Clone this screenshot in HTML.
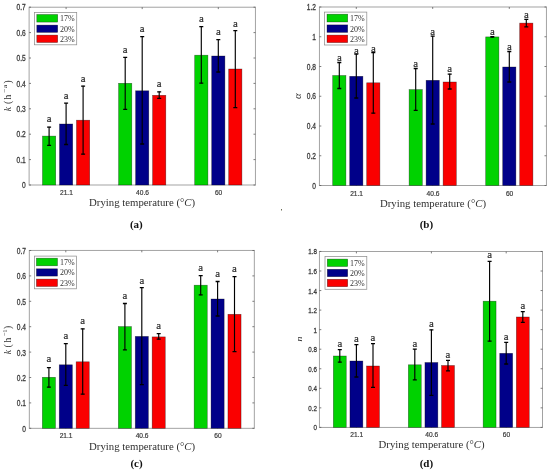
<!DOCTYPE html>
<html><head><meta charset="utf-8"><title>Figure</title>
<style>
html,body{margin:0;padding:0;background:#fff;}
svg{display:block;}
.t{font-family:"Liberation Sans",sans-serif;font-size:8.6px;fill:#3a3a3a;stroke:#3a3a3a;stroke-width:0.3px;}
.tx{font-size:7.7px;stroke-width:0.22px;}
.s{font-family:"Liberation Serif",serif;fill:#303030;}
.cap{font-family:"Liberation Serif",serif;font-weight:bold;font-size:11px;fill:#111;}
</style></head><body>
<svg width="550" height="471" viewBox="0 0 550 471">
<rect width="550" height="471" fill="#fff"/>
<g id="panel-a">
<rect x="29.10" y="7.20" width="226.30" height="177.80" fill="none" stroke="#999999" stroke-width="0.9"/>
<path d="M29.10 185.00h1.9M255.40 185.00h-1.9M29.10 159.60h1.9M255.40 159.60h-1.9M29.10 134.20h1.9M255.40 134.20h-1.9M29.10 108.80h1.9M255.40 108.80h-1.9M29.10 83.40h1.9M255.40 83.40h-1.9M29.10 58.00h1.9M255.40 58.00h-1.9M29.10 32.60h1.9M255.40 32.60h-1.9M29.10 7.20h1.9M255.40 7.20h-1.9M66.10 185.00v-1.9M66.10 7.20v1.9M142.20 185.00v-1.9M142.20 7.20v1.9M218.30 185.00v-1.9M218.30 7.20v1.9" stroke="#5a5a5a" stroke-width="0.8" fill="none"/>
<rect x="42.50" y="136.10" width="13.20" height="48.90" fill="#00d200" stroke="#000" stroke-opacity="0.5" stroke-width="0.6"/>
<rect x="59.50" y="124.00" width="13.20" height="61.00" fill="#000089" stroke="#000" stroke-opacity="0.5" stroke-width="0.6"/>
<rect x="76.50" y="120.20" width="13.20" height="64.80" fill="#fa0000" stroke="#000" stroke-opacity="0.5" stroke-width="0.6"/>
<rect x="118.60" y="83.30" width="13.20" height="101.70" fill="#00d200" stroke="#000" stroke-opacity="0.5" stroke-width="0.6"/>
<rect x="135.60" y="90.80" width="13.20" height="94.20" fill="#000089" stroke="#000" stroke-opacity="0.5" stroke-width="0.6"/>
<rect x="152.60" y="95.30" width="13.20" height="89.70" fill="#fa0000" stroke="#000" stroke-opacity="0.5" stroke-width="0.6"/>
<rect x="194.70" y="55.20" width="13.20" height="129.80" fill="#00d200" stroke="#000" stroke-opacity="0.5" stroke-width="0.6"/>
<rect x="211.70" y="56.00" width="13.20" height="129.00" fill="#000089" stroke="#000" stroke-opacity="0.5" stroke-width="0.6"/>
<rect x="228.70" y="69.00" width="13.20" height="116.00" fill="#fa0000" stroke="#000" stroke-opacity="0.5" stroke-width="0.6"/>
<path d="M49.10 126.80V145.60" stroke="#000" stroke-width="1.15" fill="none"/>
<path d="M47.10 127.10h4M47.10 145.30h4" stroke="#000" stroke-width="1.3" fill="none"/>
<text class="s" transform="translate(49.10 122.30) scale(1.12 1)" font-size="9.7" text-anchor="middle" stroke="#222" stroke-width="0.15">a</text>
<path d="M66.10 102.90V144.80" stroke="#000" stroke-width="1.15" fill="none"/>
<path d="M64.10 103.20h4M64.10 144.50h4" stroke="#000" stroke-width="1.3" fill="none"/>
<text class="s" transform="translate(66.10 98.60) scale(1.12 1)" font-size="9.7" text-anchor="middle" stroke="#222" stroke-width="0.15">a</text>
<path d="M83.10 85.80V154.40" stroke="#000" stroke-width="1.15" fill="none"/>
<path d="M81.10 86.10h4M81.10 154.10h4" stroke="#000" stroke-width="1.3" fill="none"/>
<text class="s" transform="translate(83.10 81.80) scale(1.12 1)" font-size="9.7" text-anchor="middle" stroke="#222" stroke-width="0.15">a</text>
<path d="M125.20 57.00V109.60" stroke="#000" stroke-width="1.15" fill="none"/>
<path d="M123.20 57.30h4M123.20 109.30h4" stroke="#000" stroke-width="1.3" fill="none"/>
<text class="s" transform="translate(125.20 52.70) scale(1.12 1)" font-size="9.7" text-anchor="middle" stroke="#222" stroke-width="0.15">a</text>
<path d="M142.20 36.40V144.30" stroke="#000" stroke-width="1.15" fill="none"/>
<path d="M140.20 36.70h4M140.20 144.00h4" stroke="#000" stroke-width="1.3" fill="none"/>
<text class="s" transform="translate(142.20 31.60) scale(1.12 1)" font-size="9.7" text-anchor="middle" stroke="#222" stroke-width="0.15">a</text>
<path d="M159.20 91.60V98.60" stroke="#000" stroke-width="1.15" fill="none"/>
<path d="M157.20 91.90h4M157.20 98.30h4" stroke="#000" stroke-width="1.3" fill="none"/>
<text class="s" transform="translate(159.20 87.30) scale(1.12 1)" font-size="9.7" text-anchor="middle" stroke="#222" stroke-width="0.15">a</text>
<path d="M201.30 26.30V83.50" stroke="#000" stroke-width="1.15" fill="none"/>
<path d="M199.30 26.60h4M199.30 83.20h4" stroke="#000" stroke-width="1.3" fill="none"/>
<text class="s" transform="translate(201.30 22.10) scale(1.12 1)" font-size="9.7" text-anchor="middle" stroke="#222" stroke-width="0.15">a</text>
<path d="M218.30 39.40V72.30" stroke="#000" stroke-width="1.15" fill="none"/>
<path d="M216.30 39.70h4M216.30 72.00h4" stroke="#000" stroke-width="1.3" fill="none"/>
<text class="s" transform="translate(218.30 35.40) scale(1.12 1)" font-size="9.7" text-anchor="middle" stroke="#222" stroke-width="0.15">a</text>
<path d="M235.30 30.40V107.90" stroke="#000" stroke-width="1.15" fill="none"/>
<path d="M233.30 30.70h4M233.30 107.60h4" stroke="#000" stroke-width="1.3" fill="none"/>
<text class="s" transform="translate(235.30 26.60) scale(1.12 1)" font-size="9.7" text-anchor="middle" stroke="#222" stroke-width="0.15">a</text>
<text class="t" transform="translate(25.70 188.20) scale(0.77 1)" style="font-size:8.6px" text-anchor="end">0</text>
<text class="t" transform="translate(25.70 162.80) scale(0.77 1)" style="font-size:8.6px" text-anchor="end">0.1</text>
<text class="t" transform="translate(25.70 137.40) scale(0.77 1)" style="font-size:8.6px" text-anchor="end">0.2</text>
<text class="t" transform="translate(25.70 112.00) scale(0.77 1)" style="font-size:8.6px" text-anchor="end">0.3</text>
<text class="t" transform="translate(25.70 86.60) scale(0.77 1)" style="font-size:8.6px" text-anchor="end">0.4</text>
<text class="t" transform="translate(25.70 61.20) scale(0.77 1)" style="font-size:8.6px" text-anchor="end">0.5</text>
<text class="t" transform="translate(25.70 35.80) scale(0.77 1)" style="font-size:8.6px" text-anchor="end">0.6</text>
<text class="t" transform="translate(25.70 10.40) scale(0.77 1)" style="font-size:8.6px" text-anchor="end">0.7</text>
<text class="t tx" transform="translate(66.40 195.40) scale(0.86 1)" text-anchor="middle">21.1</text>
<text class="t tx" transform="translate(142.50 195.40) scale(0.86 1)" text-anchor="middle">40.6</text>
<text class="t tx" transform="translate(218.60 195.40) scale(0.86 1)" text-anchor="middle">60</text>
<text class="s" x="142.10" y="205.70" font-size="9.9" text-anchor="middle" textLength="106" lengthAdjust="spacingAndGlyphs">Drying temperature (°<tspan font-style="italic">C</tspan>)</text>
<text class="s" transform="translate(10.50 95.30) rotate(-90)" font-size="9.6"><tspan x="-16" font-style="italic">k</tspan><tspan x="-8.8">(</tspan><tspan x="-4.3">h</tspan><tspan x="2.6" dy="-3.4" font-size="7" textLength="7.8" lengthAdjust="spacingAndGlyphs">−a</tspan><tspan x="11.8" dy="3.4">)</tspan></text>
<rect x="34.40" y="12.40" width="42.30" height="32.40" fill="#fff" stroke="#8f8f8f" stroke-width="0.75"/>
<rect x="36.80" y="14.50" width="20.90" height="7.60" fill="#00d200" stroke="#000" stroke-opacity="0.5" stroke-width="0.6"/>
<text class="s" x="60.10" y="21.30" font-size="9" textLength="14.7" lengthAdjust="spacingAndGlyphs">17%</text>
<rect x="36.80" y="25.10" width="20.90" height="7.30" fill="#000089" stroke="#000" stroke-opacity="0.5" stroke-width="0.6"/>
<text class="s" x="60.10" y="31.75" font-size="9" textLength="14.7" lengthAdjust="spacingAndGlyphs">20%</text>
<rect x="36.80" y="35.10" width="20.90" height="7.40" fill="#fa0000" stroke="#000" stroke-opacity="0.5" stroke-width="0.6"/>
<text class="s" x="60.10" y="41.80" font-size="9" textLength="14.7" lengthAdjust="spacingAndGlyphs">23%</text>
<text class="cap" x="136.30" y="227.70" text-anchor="middle">(a)</text>
</g>
<g id="panel-b">
<rect x="319.40" y="7.00" width="227.00" height="178.50" fill="none" stroke="#999999" stroke-width="0.9"/>
<path d="M319.40 185.50h1.9M546.40 185.50h-1.9M319.40 155.75h1.9M546.40 155.75h-1.9M319.40 126.00h1.9M546.40 126.00h-1.9M319.40 96.25h1.9M546.40 96.25h-1.9M319.40 66.50h1.9M546.40 66.50h-1.9M319.40 36.75h1.9M546.40 36.75h-1.9M319.40 7.00h1.9M546.40 7.00h-1.9M356.30 185.50v-1.9M356.30 7.00v1.9M432.70 185.50v-1.9M432.70 7.00v1.9M509.30 185.50v-1.9M509.30 7.00v1.9" stroke="#5a5a5a" stroke-width="0.8" fill="none"/>
<rect x="332.70" y="75.50" width="13.20" height="110.00" fill="#00d200" stroke="#000" stroke-opacity="0.5" stroke-width="0.6"/>
<rect x="349.70" y="76.30" width="13.20" height="109.20" fill="#000089" stroke="#000" stroke-opacity="0.5" stroke-width="0.6"/>
<rect x="366.70" y="82.80" width="13.20" height="102.70" fill="#fa0000" stroke="#000" stroke-opacity="0.5" stroke-width="0.6"/>
<rect x="409.10" y="89.60" width="13.20" height="95.90" fill="#00d200" stroke="#000" stroke-opacity="0.5" stroke-width="0.6"/>
<rect x="426.10" y="80.30" width="13.20" height="105.20" fill="#000089" stroke="#000" stroke-opacity="0.5" stroke-width="0.6"/>
<rect x="443.10" y="82.00" width="13.20" height="103.50" fill="#fa0000" stroke="#000" stroke-opacity="0.5" stroke-width="0.6"/>
<rect x="485.70" y="36.90" width="13.20" height="148.60" fill="#00d200" stroke="#000" stroke-opacity="0.5" stroke-width="0.6"/>
<rect x="502.70" y="67.00" width="13.20" height="118.50" fill="#000089" stroke="#000" stroke-opacity="0.5" stroke-width="0.6"/>
<rect x="519.70" y="23.10" width="13.20" height="162.40" fill="#fa0000" stroke="#000" stroke-opacity="0.5" stroke-width="0.6"/>
<path d="M339.30 62.20V88.80" stroke="#000" stroke-width="1.15" fill="none"/>
<path d="M337.30 62.50h4M337.30 88.50h4" stroke="#000" stroke-width="1.3" fill="none"/>
<text class="s" transform="translate(339.30 61.30) scale(1.12 1)" font-size="9.7" text-anchor="middle" stroke="#222" stroke-width="0.15">a</text>
<path d="M356.30 53.90V98.30" stroke="#000" stroke-width="1.15" fill="none"/>
<path d="M354.30 54.20h4M354.30 98.00h4" stroke="#000" stroke-width="1.3" fill="none"/>
<text class="s" transform="translate(356.30 53.50) scale(1.12 1)" font-size="9.7" text-anchor="middle" stroke="#222" stroke-width="0.15">a</text>
<path d="M373.30 52.40V113.40" stroke="#000" stroke-width="1.15" fill="none"/>
<path d="M371.30 52.70h4M371.30 113.10h4" stroke="#000" stroke-width="1.3" fill="none"/>
<text class="s" transform="translate(373.30 51.80) scale(1.12 1)" font-size="9.7" text-anchor="middle" stroke="#222" stroke-width="0.15">a</text>
<path d="M415.70 68.20V110.60" stroke="#000" stroke-width="1.15" fill="none"/>
<path d="M413.70 68.50h4M413.70 110.30h4" stroke="#000" stroke-width="1.3" fill="none"/>
<text class="s" transform="translate(415.70 67.10) scale(1.12 1)" font-size="9.7" text-anchor="middle" stroke="#222" stroke-width="0.15">a</text>
<path d="M432.70 35.90V124.30" stroke="#000" stroke-width="1.15" fill="none"/>
<path d="M430.70 36.20h4M430.70 124.00h4" stroke="#000" stroke-width="1.3" fill="none"/>
<text class="s" transform="translate(432.70 34.50) scale(1.12 1)" font-size="9.7" text-anchor="middle" stroke="#222" stroke-width="0.15">a</text>
<path d="M449.70 73.80V89.30" stroke="#000" stroke-width="1.15" fill="none"/>
<path d="M447.70 74.10h4M447.70 89.00h4" stroke="#000" stroke-width="1.3" fill="none"/>
<text class="s" transform="translate(449.70 72.10) scale(1.12 1)" font-size="9.7" text-anchor="middle" stroke="#222" stroke-width="0.15">a</text>
<path d="M492.30 36.40V37.40" stroke="#000" stroke-width="1.15" fill="none"/>
<path d="M490.30 36.70h4M490.30 37.10h4" stroke="#000" stroke-width="1.3" fill="none"/>
<text class="s" transform="translate(492.30 35.20) scale(1.12 1)" font-size="9.7" text-anchor="middle" stroke="#222" stroke-width="0.15">a</text>
<path d="M509.30 51.20V82.30" stroke="#000" stroke-width="1.15" fill="none"/>
<path d="M507.30 51.50h4M507.30 82.00h4" stroke="#000" stroke-width="1.3" fill="none"/>
<text class="s" transform="translate(509.30 50.00) scale(1.12 1)" font-size="9.7" text-anchor="middle" stroke="#222" stroke-width="0.15">a</text>
<path d="M526.30 19.10V27.10" stroke="#000" stroke-width="1.15" fill="none"/>
<path d="M524.30 19.40h4M524.30 26.80h4" stroke="#000" stroke-width="1.3" fill="none"/>
<text class="s" transform="translate(526.30 17.70) scale(1.12 1)" font-size="9.7" text-anchor="middle" stroke="#222" stroke-width="0.15">a</text>
<text class="t" transform="translate(316.00 188.70) scale(0.77 1)" style="font-size:8.6px" text-anchor="end">0</text>
<text class="t" transform="translate(316.00 158.95) scale(0.77 1)" style="font-size:8.6px" text-anchor="end">0.2</text>
<text class="t" transform="translate(316.00 129.20) scale(0.77 1)" style="font-size:8.6px" text-anchor="end">0.4</text>
<text class="t" transform="translate(316.00 99.45) scale(0.77 1)" style="font-size:8.6px" text-anchor="end">0.6</text>
<text class="t" transform="translate(316.00 69.70) scale(0.77 1)" style="font-size:8.6px" text-anchor="end">0.8</text>
<text class="t" transform="translate(316.00 39.95) scale(0.77 1)" style="font-size:8.6px" text-anchor="end">1</text>
<text class="t" transform="translate(316.00 10.20) scale(0.77 1)" style="font-size:8.6px" text-anchor="end">1.2</text>
<text class="t tx" transform="translate(356.60 195.80) scale(0.86 1)" text-anchor="middle">21.1</text>
<text class="t tx" transform="translate(433.00 195.80) scale(0.86 1)" text-anchor="middle">40.6</text>
<text class="t tx" transform="translate(509.60 195.80) scale(0.86 1)" text-anchor="middle">60</text>
<text class="s" x="433.00" y="207.20" font-size="9.9" text-anchor="middle" textLength="106" lengthAdjust="spacingAndGlyphs">Drying temperature (°<tspan font-style="italic">C</tspan>)</text>
<text class="s" transform="translate(301.10 96.20) rotate(-90) scale(1.1 1)" font-size="9.6" font-style="italic" text-anchor="middle">α</text>
<rect x="324.40" y="12.10" width="42.40" height="32.90" fill="#fff" stroke="#8f8f8f" stroke-width="0.75"/>
<rect x="327.00" y="14.20" width="20.70" height="7.80" fill="#00d200" stroke="#000" stroke-opacity="0.5" stroke-width="0.6"/>
<text class="s" x="350.10" y="21.10" font-size="9" textLength="14.7" lengthAdjust="spacingAndGlyphs">17%</text>
<rect x="327.00" y="24.90" width="20.70" height="7.50" fill="#000089" stroke="#000" stroke-opacity="0.5" stroke-width="0.6"/>
<text class="s" x="350.10" y="31.65" font-size="9" textLength="14.7" lengthAdjust="spacingAndGlyphs">20%</text>
<rect x="327.00" y="35.10" width="20.70" height="7.50" fill="#fa0000" stroke="#000" stroke-opacity="0.5" stroke-width="0.6"/>
<text class="s" x="350.10" y="41.85" font-size="9" textLength="14.7" lengthAdjust="spacingAndGlyphs">23%</text>
<text class="cap" x="426.40" y="228.20" text-anchor="middle">(b)</text>
</g>
<g id="panel-c">
<rect x="29.30" y="250.40" width="225.00" height="177.90" fill="none" stroke="#999999" stroke-width="0.9"/>
<path d="M29.30 428.30h1.9M254.30 428.30h-1.9M29.30 402.90h1.9M254.30 402.90h-1.9M29.30 377.50h1.9M254.30 377.50h-1.9M29.30 352.10h1.9M254.30 352.10h-1.9M29.30 326.70h1.9M254.30 326.70h-1.9M29.30 301.30h1.9M254.30 301.30h-1.9M29.30 275.90h1.9M254.30 275.90h-1.9M29.30 250.50h1.9M254.30 250.50h-1.9M65.80 428.30v-1.9M65.80 250.40v1.9M141.80 428.30v-1.9M141.80 250.40v1.9M217.60 428.30v-1.9M217.60 250.40v1.9" stroke="#5a5a5a" stroke-width="0.8" fill="none"/>
<rect x="42.35" y="377.30" width="13.10" height="51.00" fill="#00d200" stroke="#000" stroke-opacity="0.5" stroke-width="0.6"/>
<rect x="59.25" y="364.80" width="13.10" height="63.50" fill="#000089" stroke="#000" stroke-opacity="0.5" stroke-width="0.6"/>
<rect x="76.15" y="361.80" width="13.10" height="66.50" fill="#fa0000" stroke="#000" stroke-opacity="0.5" stroke-width="0.6"/>
<rect x="118.35" y="326.60" width="13.10" height="101.70" fill="#00d200" stroke="#000" stroke-opacity="0.5" stroke-width="0.6"/>
<rect x="135.25" y="336.40" width="13.10" height="91.90" fill="#000089" stroke="#000" stroke-opacity="0.5" stroke-width="0.6"/>
<rect x="152.15" y="336.90" width="13.10" height="91.40" fill="#fa0000" stroke="#000" stroke-opacity="0.5" stroke-width="0.6"/>
<rect x="194.15" y="285.20" width="13.10" height="143.10" fill="#00d200" stroke="#000" stroke-opacity="0.5" stroke-width="0.6"/>
<rect x="211.05" y="299.00" width="13.10" height="129.30" fill="#000089" stroke="#000" stroke-opacity="0.5" stroke-width="0.6"/>
<rect x="227.95" y="314.30" width="13.10" height="114.00" fill="#fa0000" stroke="#000" stroke-opacity="0.5" stroke-width="0.6"/>
<path d="M48.90 367.30V387.40" stroke="#000" stroke-width="1.15" fill="none"/>
<path d="M46.90 367.60h4M46.90 387.10h4" stroke="#000" stroke-width="1.3" fill="none"/>
<text class="s" transform="translate(48.90 362.30) scale(1.12 1)" font-size="9.7" text-anchor="middle" stroke="#222" stroke-width="0.15">a</text>
<path d="M65.80 343.40V385.60" stroke="#000" stroke-width="1.15" fill="none"/>
<path d="M63.80 343.70h4M63.80 385.30h4" stroke="#000" stroke-width="1.3" fill="none"/>
<text class="s" transform="translate(65.80 338.80) scale(1.12 1)" font-size="9.7" text-anchor="middle" stroke="#222" stroke-width="0.15">a</text>
<path d="M82.70 328.60V394.40" stroke="#000" stroke-width="1.15" fill="none"/>
<path d="M80.70 328.90h4M80.70 394.10h4" stroke="#000" stroke-width="1.3" fill="none"/>
<text class="s" transform="translate(82.70 324.30) scale(1.12 1)" font-size="9.7" text-anchor="middle" stroke="#222" stroke-width="0.15">a</text>
<path d="M124.90 303.20V350.10" stroke="#000" stroke-width="1.15" fill="none"/>
<path d="M122.90 303.50h4M122.90 349.80h4" stroke="#000" stroke-width="1.3" fill="none"/>
<text class="s" transform="translate(124.90 298.70) scale(1.12 1)" font-size="9.7" text-anchor="middle" stroke="#222" stroke-width="0.15">a</text>
<path d="M141.80 287.40V384.90" stroke="#000" stroke-width="1.15" fill="none"/>
<path d="M139.80 287.70h4M139.80 384.60h4" stroke="#000" stroke-width="1.3" fill="none"/>
<text class="s" transform="translate(141.80 283.70) scale(1.12 1)" font-size="9.7" text-anchor="middle" stroke="#222" stroke-width="0.15">a</text>
<path d="M158.70 333.30V339.40" stroke="#000" stroke-width="1.15" fill="none"/>
<path d="M156.70 333.60h4M156.70 339.10h4" stroke="#000" stroke-width="1.3" fill="none"/>
<text class="s" transform="translate(158.70 328.60) scale(1.12 1)" font-size="9.7" text-anchor="middle" stroke="#222" stroke-width="0.15">a</text>
<path d="M200.70 275.40V295.20" stroke="#000" stroke-width="1.15" fill="none"/>
<path d="M198.70 275.70h4M198.70 294.90h4" stroke="#000" stroke-width="1.3" fill="none"/>
<text class="s" transform="translate(200.70 270.90) scale(1.12 1)" font-size="9.7" text-anchor="middle" stroke="#222" stroke-width="0.15">a</text>
<path d="M217.60 281.20V316.30" stroke="#000" stroke-width="1.15" fill="none"/>
<path d="M215.60 281.50h4M215.60 316.00h4" stroke="#000" stroke-width="1.3" fill="none"/>
<text class="s" transform="translate(217.60 277.10) scale(1.12 1)" font-size="9.7" text-anchor="middle" stroke="#222" stroke-width="0.15">a</text>
<path d="M234.50 276.40V351.90" stroke="#000" stroke-width="1.15" fill="none"/>
<path d="M232.50 276.70h4M232.50 351.60h4" stroke="#000" stroke-width="1.3" fill="none"/>
<text class="s" transform="translate(234.50 271.90) scale(1.12 1)" font-size="9.7" text-anchor="middle" stroke="#222" stroke-width="0.15">a</text>
<text class="t" transform="translate(25.90 431.70) scale(0.77 1)" style="font-size:8.6px" text-anchor="end">0</text>
<text class="t" transform="translate(25.90 406.30) scale(0.77 1)" style="font-size:8.6px" text-anchor="end">0.1</text>
<text class="t" transform="translate(25.90 380.90) scale(0.77 1)" style="font-size:8.6px" text-anchor="end">0.2</text>
<text class="t" transform="translate(25.90 355.50) scale(0.77 1)" style="font-size:8.6px" text-anchor="end">0.3</text>
<text class="t" transform="translate(25.90 330.10) scale(0.77 1)" style="font-size:8.6px" text-anchor="end">0.4</text>
<text class="t" transform="translate(25.90 304.70) scale(0.77 1)" style="font-size:8.6px" text-anchor="end">0.5</text>
<text class="t" transform="translate(25.90 279.30) scale(0.77 1)" style="font-size:8.6px" text-anchor="end">0.6</text>
<text class="t" transform="translate(25.90 253.90) scale(0.77 1)" style="font-size:8.6px" text-anchor="end">0.7</text>
<text class="t tx" transform="translate(66.10 438.40) scale(0.86 1)" text-anchor="middle">21.1</text>
<text class="t tx" transform="translate(142.10 438.40) scale(0.86 1)" text-anchor="middle">40.6</text>
<text class="t tx" transform="translate(217.90 438.40) scale(0.86 1)" text-anchor="middle">60</text>
<text class="s" x="142.10" y="450.00" font-size="9.9" text-anchor="middle" textLength="106" lengthAdjust="spacingAndGlyphs">Drying temperature (°<tspan font-style="italic">C</tspan>)</text>
<text class="s" transform="translate(10.50 339.60) rotate(-90)" font-size="9.6"><tspan x="-14.6" font-style="italic">k</tspan><tspan x="-7.8">(</tspan><tspan x="-3.0">h</tspan><tspan x="3.8" dy="-3.4" font-size="7" textLength="6.4" lengthAdjust="spacingAndGlyphs">−1</tspan><tspan x="10.6" dy="3.4">)</tspan></text>
<rect x="34.40" y="256.10" width="42.00" height="32.70" fill="#fff" stroke="#8f8f8f" stroke-width="0.75"/>
<rect x="36.40" y="258.20" width="21.10" height="7.60" fill="#00d200" stroke="#000" stroke-opacity="0.5" stroke-width="0.6"/>
<text class="s" x="59.90" y="265.00" font-size="9" textLength="14.7" lengthAdjust="spacingAndGlyphs">17%</text>
<rect x="36.40" y="268.80" width="21.10" height="7.30" fill="#000089" stroke="#000" stroke-opacity="0.5" stroke-width="0.6"/>
<text class="s" x="59.90" y="275.45" font-size="9" textLength="14.7" lengthAdjust="spacingAndGlyphs">20%</text>
<rect x="36.40" y="279.10" width="21.10" height="7.40" fill="#fa0000" stroke="#000" stroke-opacity="0.5" stroke-width="0.6"/>
<text class="s" x="59.90" y="285.80" font-size="9" textLength="14.7" lengthAdjust="spacingAndGlyphs">23%</text>
<text class="cap" x="136.50" y="466.50" text-anchor="middle">(c)</text>
</g>
<g id="panel-d">
<rect x="319.40" y="251.50" width="223.10" height="175.90" fill="none" stroke="#999999" stroke-width="0.9"/>
<path d="M319.40 427.40h1.9M542.50 427.40h-1.9M319.40 407.85h1.9M542.50 407.85h-1.9M319.40 388.30h1.9M542.50 388.30h-1.9M319.40 368.75h1.9M542.50 368.75h-1.9M319.40 349.20h1.9M542.50 349.20h-1.9M319.40 329.65h1.9M542.50 329.65h-1.9M319.40 310.10h1.9M542.50 310.10h-1.9M319.40 290.55h1.9M542.50 290.55h-1.9M319.40 271.00h1.9M542.50 271.00h-1.9M319.40 251.45h1.9M542.50 251.45h-1.9M356.40 427.40v-1.9M356.40 251.50v1.9M431.40 427.40v-1.9M431.40 251.50v1.9M506.20 427.40v-1.9M506.20 251.50v1.9" stroke="#5a5a5a" stroke-width="0.8" fill="none"/>
<rect x="333.35" y="356.00" width="12.90" height="71.40" fill="#00d200" stroke="#000" stroke-opacity="0.5" stroke-width="0.6"/>
<rect x="349.95" y="361.00" width="12.90" height="66.40" fill="#000089" stroke="#000" stroke-opacity="0.5" stroke-width="0.6"/>
<rect x="366.55" y="366.00" width="12.90" height="61.40" fill="#fa0000" stroke="#000" stroke-opacity="0.5" stroke-width="0.6"/>
<rect x="408.35" y="364.80" width="12.90" height="62.60" fill="#00d200" stroke="#000" stroke-opacity="0.5" stroke-width="0.6"/>
<rect x="424.95" y="362.50" width="12.90" height="64.90" fill="#000089" stroke="#000" stroke-opacity="0.5" stroke-width="0.6"/>
<rect x="441.55" y="365.50" width="12.90" height="61.90" fill="#fa0000" stroke="#000" stroke-opacity="0.5" stroke-width="0.6"/>
<rect x="483.15" y="301.20" width="12.90" height="126.20" fill="#00d200" stroke="#000" stroke-opacity="0.5" stroke-width="0.6"/>
<rect x="499.75" y="353.30" width="12.90" height="74.10" fill="#000089" stroke="#000" stroke-opacity="0.5" stroke-width="0.6"/>
<rect x="516.35" y="317.00" width="12.90" height="110.40" fill="#fa0000" stroke="#000" stroke-opacity="0.5" stroke-width="0.6"/>
<path d="M339.80 349.40V362.50" stroke="#000" stroke-width="1.15" fill="none"/>
<path d="M337.80 349.70h4M337.80 362.20h4" stroke="#000" stroke-width="1.3" fill="none"/>
<text class="s" transform="translate(339.80 347.00) scale(1.12 1)" font-size="9.7" text-anchor="middle" stroke="#222" stroke-width="0.15">a</text>
<path d="M356.40 344.40V377.30" stroke="#000" stroke-width="1.15" fill="none"/>
<path d="M354.40 344.70h4M354.40 377.00h4" stroke="#000" stroke-width="1.3" fill="none"/>
<text class="s" transform="translate(356.40 341.70) scale(1.12 1)" font-size="9.7" text-anchor="middle" stroke="#222" stroke-width="0.15">a</text>
<path d="M373.00 343.40V387.60" stroke="#000" stroke-width="1.15" fill="none"/>
<path d="M371.00 343.70h4M371.00 387.30h4" stroke="#000" stroke-width="1.3" fill="none"/>
<text class="s" transform="translate(373.00 341.00) scale(1.12 1)" font-size="9.7" text-anchor="middle" stroke="#222" stroke-width="0.15">a</text>
<path d="M414.80 348.90V380.10" stroke="#000" stroke-width="1.15" fill="none"/>
<path d="M412.80 349.20h4M412.80 379.80h4" stroke="#000" stroke-width="1.3" fill="none"/>
<text class="s" transform="translate(414.80 346.50) scale(1.12 1)" font-size="9.7" text-anchor="middle" stroke="#222" stroke-width="0.15">a</text>
<path d="M431.40 329.60V395.60" stroke="#000" stroke-width="1.15" fill="none"/>
<path d="M429.40 329.90h4M429.40 395.30h4" stroke="#000" stroke-width="1.3" fill="none"/>
<text class="s" transform="translate(431.40 327.20) scale(1.12 1)" font-size="9.7" text-anchor="middle" stroke="#222" stroke-width="0.15">a</text>
<path d="M448.00 360.00V371.10" stroke="#000" stroke-width="1.15" fill="none"/>
<path d="M446.00 360.30h4M446.00 370.80h4" stroke="#000" stroke-width="1.3" fill="none"/>
<text class="s" transform="translate(448.00 358.10) scale(1.12 1)" font-size="9.7" text-anchor="middle" stroke="#222" stroke-width="0.15">a</text>
<path d="M489.60 261.10V341.40" stroke="#000" stroke-width="1.15" fill="none"/>
<path d="M487.60 261.40h4M487.60 341.10h4" stroke="#000" stroke-width="1.3" fill="none"/>
<text class="s" transform="translate(489.60 258.20) scale(1.12 1)" font-size="9.7" text-anchor="middle" stroke="#222" stroke-width="0.15">a</text>
<path d="M506.20 342.10V364.30" stroke="#000" stroke-width="1.15" fill="none"/>
<path d="M504.20 342.40h4M504.20 364.00h4" stroke="#000" stroke-width="1.3" fill="none"/>
<text class="s" transform="translate(506.20 340.00) scale(1.12 1)" font-size="9.7" text-anchor="middle" stroke="#222" stroke-width="0.15">a</text>
<path d="M522.80 311.30V322.60" stroke="#000" stroke-width="1.15" fill="none"/>
<path d="M520.80 311.60h4M520.80 322.30h4" stroke="#000" stroke-width="1.3" fill="none"/>
<text class="s" transform="translate(522.80 309.30) scale(1.12 1)" font-size="9.7" text-anchor="middle" stroke="#222" stroke-width="0.15">a</text>
<text class="t" transform="translate(316.90 430.40) scale(0.77 1)" style="font-size:8.1px" text-anchor="end">0</text>
<text class="t" transform="translate(316.90 410.85) scale(0.77 1)" style="font-size:8.1px" text-anchor="end">0.2</text>
<text class="t" transform="translate(316.90 391.30) scale(0.77 1)" style="font-size:8.1px" text-anchor="end">0.4</text>
<text class="t" transform="translate(316.90 371.75) scale(0.77 1)" style="font-size:8.1px" text-anchor="end">0.6</text>
<text class="t" transform="translate(316.90 352.20) scale(0.77 1)" style="font-size:8.1px" text-anchor="end">0.8</text>
<text class="t" transform="translate(316.90 332.65) scale(0.77 1)" style="font-size:8.1px" text-anchor="end">1</text>
<text class="t" transform="translate(316.90 313.10) scale(0.77 1)" style="font-size:8.1px" text-anchor="end">1.2</text>
<text class="t" transform="translate(316.90 293.55) scale(0.77 1)" style="font-size:8.1px" text-anchor="end">1.4</text>
<text class="t" transform="translate(316.90 274.00) scale(0.77 1)" style="font-size:8.1px" text-anchor="end">1.6</text>
<text class="t" transform="translate(316.90 254.45) scale(0.77 1)" style="font-size:8.1px" text-anchor="end">1.8</text>
<text class="t tx" transform="translate(356.70 437.40) scale(0.86 1)" text-anchor="middle">21.1</text>
<text class="t tx" transform="translate(431.70 437.40) scale(0.86 1)" text-anchor="middle">40.6</text>
<text class="t tx" transform="translate(506.50 437.40) scale(0.86 1)" text-anchor="middle">60</text>
<text class="s" x="431.60" y="448.20" font-size="9.9" text-anchor="middle" textLength="106" lengthAdjust="spacingAndGlyphs">Drying temperature (°<tspan font-style="italic">C</tspan>)</text>
<text class="s" transform="translate(302.00 339.10) rotate(-90) scale(1.15 1)" font-size="8.6" font-style="italic" text-anchor="middle">n</text>
<rect x="325.00" y="256.50" width="41.80" height="32.80" fill="#fff" stroke="#8f8f8f" stroke-width="0.75"/>
<rect x="327.30" y="259.10" width="20.40" height="7.40" fill="#00d200" stroke="#000" stroke-opacity="0.5" stroke-width="0.6"/>
<text class="s" x="350.10" y="265.80" font-size="9" textLength="14.7" lengthAdjust="spacingAndGlyphs">17%</text>
<rect x="327.30" y="269.30" width="20.40" height="7.40" fill="#000089" stroke="#000" stroke-opacity="0.5" stroke-width="0.6"/>
<text class="s" x="350.10" y="276.00" font-size="9" textLength="14.7" lengthAdjust="spacingAndGlyphs">20%</text>
<rect x="327.30" y="279.30" width="20.40" height="7.40" fill="#fa0000" stroke="#000" stroke-opacity="0.5" stroke-width="0.6"/>
<text class="s" x="350.10" y="286.00" font-size="9" textLength="14.7" lengthAdjust="spacingAndGlyphs">23%</text>
<text class="cap" x="426.40" y="466.50" text-anchor="middle">(d)</text>
</g>
<rect x="281" y="209" width="1" height="1.5" fill="#6a6a55"/>
</svg>
</body></html>
